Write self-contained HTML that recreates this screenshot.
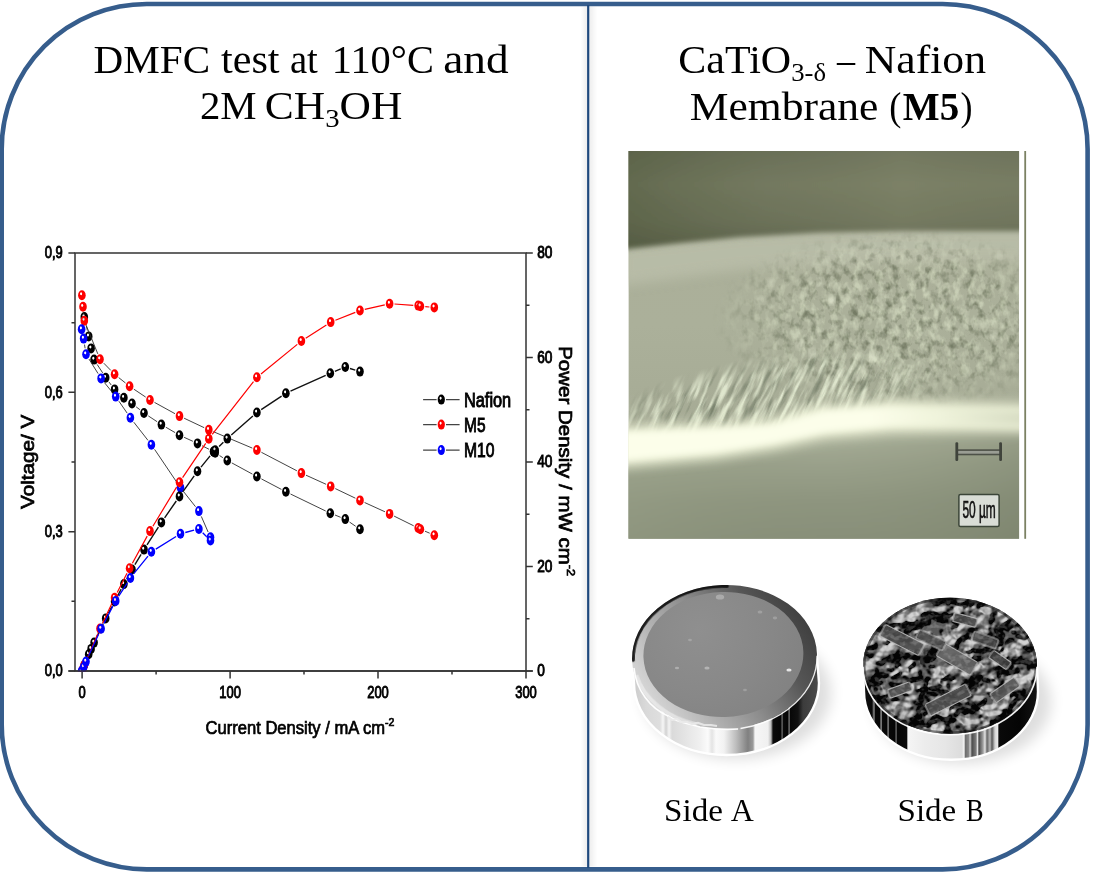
<!DOCTYPE html>
<html lang="en"><head><meta charset="utf-8"><title>Graphical abstract</title><style>html,body{margin:0;padding:0;background:#fff;overflow:hidden}svg{display:block}</style></head>
<body>
<svg width="1100" height="881" viewBox="0 0 1100 881">
<defs>
<linearGradient id="dsl" x1="0" x2="1" y1="0" y2="0"><stop offset="0" stop-color="#000" stop-opacity="0"/><stop offset="1" stop-color="#000" stop-opacity="0.07"/></linearGradient>
<linearGradient id="dsr" x1="0" x2="1" y1="0" y2="0"><stop offset="0" stop-color="#000" stop-opacity="0.07"/><stop offset="1" stop-color="#000" stop-opacity="0"/></linearGradient>
<radialGradient id="mk" cx="0.40" cy="0.36" r="0.62" fx="0.40" fy="0.36"><stop offset="0" stop-color="#fff" stop-opacity="0.95"/><stop offset="0.13" stop-color="#fff" stop-opacity="0.8"/><stop offset="0.30" stop-color="#000"/><stop offset="1" stop-color="#000"/></radialGradient>
<radialGradient id="mr" cx="0.40" cy="0.36" r="0.62" fx="0.40" fy="0.36"><stop offset="0" stop-color="#fff" stop-opacity="0.95"/><stop offset="0.13" stop-color="#fff" stop-opacity="0.8"/><stop offset="0.30" stop-color="#fe0000"/><stop offset="1" stop-color="#fe0000"/></radialGradient>
<radialGradient id="mb" cx="0.40" cy="0.36" r="0.62" fx="0.40" fy="0.36"><stop offset="0" stop-color="#fff" stop-opacity="0.95"/><stop offset="0.13" stop-color="#fff" stop-opacity="0.8"/><stop offset="0.30" stop-color="#0000fe"/><stop offset="1" stop-color="#0000fe"/></radialGradient>
<clipPath id="plotclip"><rect x="75.0" y="253.0" width="451.0" height="418.4"/></clipPath>
<clipPath id="mclip"><rect x="628.4" y="151.0" width="390.70000000000005" height="387.79999999999995"/></clipPath>
<linearGradient id="mbase" x1="0" y1="0" x2="0" y2="1"><stop offset="0" stop-color="#a0a48e"/><stop offset="0.22" stop-color="#abaf99"/><stop offset="0.45" stop-color="#abb09a"/><stop offset="0.7" stop-color="#a6ab95"/><stop offset="1" stop-color="#878e78"/></linearGradient>
<linearGradient id="mtop" gradientUnits="userSpaceOnUse" x1="0" y1="151" x2="0" y2="246"><stop offset="0" stop-color="#6e735c"/><stop offset="0.35" stop-color="#797e65"/><stop offset="0.75" stop-color="#70755d"/><stop offset="1" stop-color="#646952"/></linearGradient>
<linearGradient id="mtoph" gradientUnits="userSpaceOnUse" x1="628" y1="0" x2="1019" y2="0"><stop offset="0" stop-color="#3f4a2c" stop-opacity="0.38"/><stop offset="0.35" stop-color="#4a5436" stop-opacity="0.12"/><stop offset="0.7" stop-color="#8a9070" stop-opacity="0.18"/><stop offset="1" stop-color="#6c7356" stop-opacity="0.1"/></linearGradient>
<linearGradient id="mbot" gradientUnits="userSpaceOnUse" x1="0" y1="430" x2="0" y2="539"><stop offset="0" stop-color="#aab09a"/><stop offset="0.3" stop-color="#9aa18b"/><stop offset="0.65" stop-color="#8e957f"/><stop offset="1" stop-color="#888f79"/></linearGradient>
<linearGradient id="mboth" gradientUnits="userSpaceOnUse" x1="628" y1="0" x2="1019" y2="0"><stop offset="0" stop-color="#a0a88e" stop-opacity="0.25"/><stop offset="0.5" stop-color="#8c947a" stop-opacity="0"/><stop offset="1" stop-color="#5f6850" stop-opacity="0.22"/></linearGradient>
<filter id="mb1" x="-5%" y="-20%" width="110%" height="140%"><feGaussianBlur stdDeviation="2.4"/></filter>
<filter id="mb3" x="-5%" y="-40%" width="110%" height="180%"><feGaussianBlur stdDeviation="3.2"/></filter>
<filter id="mb6" x="-10%" y="-60%" width="120%" height="220%"><feGaussianBlur stdDeviation="6"/></filter>
<filter id="mb10" x="-10%" y="-60%" width="120%" height="220%"><feGaussianBlur stdDeviation="10"/></filter>
<filter id="mtexA" x="0" y="0" width="100%" height="100%" color-interpolation-filters="sRGB"><feTurbulence type="fractalNoise" baseFrequency="0.13 0.085" numOctaves="3" seed="7" result="n"/><feColorMatrix type="matrix" values="0 0 0 0 0.90  0 0 0 0 0.93  0 0 0 0 0.82  3.0 0 0 0 -1.32"/><feGaussianBlur stdDeviation="0.6"/></filter>
<filter id="mtexD" x="0" y="0" width="100%" height="100%" color-interpolation-filters="sRGB"><feTurbulence type="fractalNoise" baseFrequency="0.12 0.10" numOctaves="3" seed="23" result="n"/><feColorMatrix type="matrix" values="0 0 0 0 0.37  0 0 0 0 0.40  0 0 0 0 0.31  0 2.8 0 0 -1.34"/><feGaussianBlur stdDeviation="0.6"/></filter>
<filter id="mtexS" x="0" y="0" width="100%" height="100%" color-interpolation-filters="sRGB"><feTurbulence type="fractalNoise" baseFrequency="0.17 0.03" numOctaves="3" seed="5" result="n"/><feColorMatrix type="matrix" values="0 0 0 0 0.95  0 0 0 0 0.98  0 0 0 0 0.88  3.2 0 0 0 -1.4"/><feGaussianBlur stdDeviation="0.7"/></filter>
<filter id="mtexSD" x="0" y="0" width="100%" height="100%" color-interpolation-filters="sRGB"><feTurbulence type="fractalNoise" baseFrequency="0.15 0.035" numOctaves="3" seed="11" result="n"/><feColorMatrix type="matrix" values="0 0 0 0 0.42  0 0 0 0 0.46  0 0 0 0 0.38  0 3.0 0 0 -1.45"/><feGaussianBlur stdDeviation="0.7"/></filter>
<radialGradient id="mmgA" gradientUnits="userSpaceOnUse" cx="900" cy="320" r="150" gradientTransform="translate(900 320) scale(1.25 0.62) translate(-900 -320)"><stop offset="0" stop-color="#fff"/><stop offset="0.6" stop-color="#fff" stop-opacity="0.85"/><stop offset="1" stop-color="#fff" stop-opacity="0"/></radialGradient>
<mask id="mmA" maskUnits="userSpaceOnUse" x="628.4" y="151.0" width="390.70000000000005" height="387.79999999999995"><rect x="628.4" y="151.0" width="390.70000000000005" height="387.79999999999995" fill="url(#mmgA)"/></mask>
<radialGradient id="mmgS" gradientUnits="userSpaceOnUse" cx="770" cy="400" r="150" gradientTransform="translate(770 400) rotate(-9) scale(1.15 0.30) translate(-770 -400)"><stop offset="0" stop-color="#fff"/><stop offset="0.65" stop-color="#fff" stop-opacity="0.9"/><stop offset="1" stop-color="#fff" stop-opacity="0"/></radialGradient>
<mask id="mmS" maskUnits="userSpaceOnUse" x="628.4" y="151.0" width="390.70000000000005" height="387.79999999999995"><rect x="628.4" y="151.0" width="390.70000000000005" height="387.79999999999995" fill="url(#mmgS)"/></mask>
<linearGradient id="mcore" gradientUnits="userSpaceOnUse" x1="628" y1="0" x2="1019" y2="0"><stop offset="0" stop-color="#fcfeea"/><stop offset="0.62" stop-color="#fcfeea"/><stop offset="0.8" stop-color="#eff3db"/><stop offset="1" stop-color="#d9dec5"/></linearGradient>
<filter id="dsh" x="-30%" y="-30%" width="160%" height="160%"><feGaussianBlur stdDeviation="7"/></filter>
<filter id="db05" x="-5%" y="-5%" width="110%" height="110%"><feGaussianBlur stdDeviation="0.5"/></filter>
<linearGradient id="dAw" gradientUnits="userSpaceOnUse" x1="632" y1="0" x2="820" y2="0"><stop offset="0.0000" stop-color="#c9c9c9"/><stop offset="0.0745" stop-color="#d9d9d9"/><stop offset="0.1489" stop-color="#dedede"/><stop offset="0.1649" stop-color="#f6f6f6"/><stop offset="0.1809" stop-color="#d2d2d2"/><stop offset="0.1968" stop-color="#f4f4f4"/><stop offset="0.2128" stop-color="#dadada"/><stop offset="0.3617" stop-color="#f0f0f0"/><stop offset="0.4043" stop-color="#fbfbfb"/><stop offset="0.4255" stop-color="#e4e4e4"/><stop offset="0.4468" stop-color="#fafafa"/><stop offset="0.4894" stop-color="#f2f2f2"/><stop offset="0.5532" stop-color="#bdbdbd"/><stop offset="0.6170" stop-color="#808080"/><stop offset="0.6436" stop-color="#9a9a9a"/><stop offset="0.6543" stop-color="#f6f6f6"/><stop offset="0.7234" stop-color="#f0f0f0"/><stop offset="0.7394" stop-color="#bbbbbb"/><stop offset="0.7500" stop-color="#0a0a0a"/><stop offset="0.7926" stop-color="#050505"/><stop offset="0.7979" stop-color="#777"/><stop offset="0.8059" stop-color="#0a0a0a"/><stop offset="0.8298" stop-color="#050505"/><stop offset="0.8351" stop-color="#888"/><stop offset="0.8431" stop-color="#080808"/><stop offset="0.8830" stop-color="#111"/><stop offset="0.9096" stop-color="#3c3c3c"/><stop offset="1.0000" stop-color="#4c4c4c"/></linearGradient>
<linearGradient id="dAr" gradientUnits="userSpaceOnUse" x1="640" y1="715" x2="812" y2="610"><stop offset="0" stop-color="#e4e4e4"/><stop offset="0.2" stop-color="#c2c2c2"/><stop offset="0.5" stop-color="#8c8c8c"/><stop offset="0.75" stop-color="#565656"/><stop offset="1" stop-color="#3a3a3a"/></linearGradient>
<radialGradient id="dAf" gradientUnits="userSpaceOnUse" cx="700" cy="630" r="110"><stop offset="0" stop-color="#8f8f8f"/><stop offset="0.6" stop-color="#888888"/><stop offset="1" stop-color="#828282"/></radialGradient>
<clipPath id="dAtop"><ellipse cx="724.5" cy="657.0" rx="92.5" ry="72.0" transform="rotate(-2 724.5 657.0)"/></clipPath>
<linearGradient id="dBw" gradientUnits="userSpaceOnUse" x1="862" y1="0" x2="1040" y2="0"><stop offset="0.0000" stop-color="#151515"/><stop offset="0.0562" stop-color="#080808"/><stop offset="0.0674" stop-color="#8a8a8a"/><stop offset="0.0758" stop-color="#080808"/><stop offset="0.1011" stop-color="#050505"/><stop offset="0.1067" stop-color="#aaaaaa"/><stop offset="0.1152" stop-color="#0a0a0a"/><stop offset="0.1404" stop-color="#060606"/><stop offset="0.1461" stop-color="#999"/><stop offset="0.1545" stop-color="#080808"/><stop offset="0.1854" stop-color="#050505"/><stop offset="0.1910" stop-color="#777"/><stop offset="0.1994" stop-color="#060606"/><stop offset="0.2500" stop-color="#0a0a0a"/><stop offset="0.2584" stop-color="#f5f5f5"/><stop offset="0.3539" stop-color="#ececec"/><stop offset="0.4663" stop-color="#e6e6e6"/><stop offset="0.5618" stop-color="#dcdcdc"/><stop offset="0.5730" stop-color="#f4f4f4"/><stop offset="0.5815" stop-color="#6e6e6e"/><stop offset="0.6011" stop-color="#8a8a8a"/><stop offset="0.6067" stop-color="#d8d8d8"/><stop offset="0.6180" stop-color="#4c4c4c"/><stop offset="0.6404" stop-color="#7c7c7c"/><stop offset="0.6489" stop-color="#e0e0e0"/><stop offset="0.6573" stop-color="#4c4c4c"/><stop offset="0.6798" stop-color="#a0a0a0"/><stop offset="0.6910" stop-color="#e4e4e4"/><stop offset="0.7022" stop-color="#666"/><stop offset="0.7191" stop-color="#b8b8b8"/><stop offset="0.7303" stop-color="#555"/><stop offset="0.7472" stop-color="#d4d4d4"/><stop offset="0.7612" stop-color="#e8e8e8"/><stop offset="0.7697" stop-color="#0a0a0a"/><stop offset="0.8876" stop-color="#050505"/><stop offset="1.0000" stop-color="#161616"/></linearGradient>
<clipPath id="dBtop"><ellipse cx="950.0" cy="665.8" rx="87.0" ry="68.0"/></clipPath>
<filter id="dBtex" x="0" y="0" width="100%" height="100%" color-interpolation-filters="sRGB"><feTurbulence type="fractalNoise" baseFrequency="0.04 0.05" numOctaves="4" seed="8" result="n"/><feComponentTransfer in="n" result="h"><feFuncA type="discrete" tableValues="0 0 0 0.2 0.2 0.5 0.55 0.8 0.85 1 1 1"/></feComponentTransfer><feGaussianBlur in="h" stdDeviation="0.8" result="hb"/><feDiffuseLighting in="hb" surfaceScale="7" diffuseConstant="1.05" lighting-color="#cfcfcf" result="lit"><feDistantLight azimuth="235" elevation="38"/></feDiffuseLighting><feColorMatrix in="lit" type="matrix" values="1.55 0 0 0 -0.46  1.55 0 0 0 -0.46  1.55 0 0 0 -0.46  0 0 0 0 1"/></filter>
<filter id="dBtex2" x="0" y="0" width="100%" height="100%" color-interpolation-filters="sRGB"><feTurbulence type="fractalNoise" baseFrequency="0.16 0.2" numOctaves="2" seed="19" result="n"/><feColorMatrix type="matrix" values="0 0 0 0 0.9  0 0 0 0 0.9  0 0 0 0 0.9  0 4.5 0 0 -2.1"/><feGaussianBlur stdDeviation="0.4"/></filter>
</defs>
<path d="M146.7,4.0 H942.5999999999999 A145,145 0 0 1 1087.6,149.0 V724.4 A145,145 0 0 1 942.5999999999999,869.4 H146.7 A145,145 0 0 1 1.7,724.4 V149.0 A145,145 0 0 1 146.7,4.0 Z" fill="#fff" stroke="#365d8c" stroke-width="4.6"/>
<rect x="580.5" y="6.5" width="6.6" height="860" fill="url(#dsl)"/><rect x="589.3" y="6.5" width="8" height="860" fill="url(#dsr)"/><rect x="587.1" y="5" width="2.2" height="863" fill="#1f497d"/>
<text y="73.0" font-family="'Liberation Serif', serif" font-size="39.3" fill="#000"><tspan x="93.55" textLength="116.5" lengthAdjust="spacingAndGlyphs">DMFC</tspan> <tspan x="221.0" textLength="58.55" lengthAdjust="spacingAndGlyphs">test</tspan> <tspan x="289.91" textLength="27.97" lengthAdjust="spacingAndGlyphs">at</tspan> <tspan x="331.72" textLength="102.14" lengthAdjust="spacingAndGlyphs">110°C</tspan> <tspan x="443.15" textLength="65.42" lengthAdjust="spacingAndGlyphs">and</tspan></text><text y="119.2" font-family="'Liberation Serif', serif" font-size="39.3" fill="#000"><tspan x="199.96" textLength="56.65" lengthAdjust="spacingAndGlyphs">2M</tspan> <tspan x="264.89" textLength="137.5" lengthAdjust="spacingAndGlyphs">CH<tspan font-size="26" dy="8">3</tspan><tspan dy="-8">OH</tspan></tspan></text><text y="73.0" font-family="'Liberation Serif', serif" font-size="39.3" fill="#000"><tspan x="678.33" textLength="147.67" lengthAdjust="spacingAndGlyphs">CaTiO<tspan font-size="25" dy="8">3-δ</tspan></tspan> <tspan x="837.12" textLength="18.07" lengthAdjust="spacingAndGlyphs"><tspan dy="-8">–</tspan></tspan> <tspan x="864.79" textLength="121.25" lengthAdjust="spacingAndGlyphs">Nafion</tspan></text><text y="119.5" font-family="'Liberation Serif', serif" font-size="39.3" fill="#000"><tspan x="689.79" textLength="188.66" lengthAdjust="spacingAndGlyphs">Membrane</tspan> <tspan x="889.27" textLength="12.14" lengthAdjust="spacingAndGlyphs">(</tspan><tspan x="902.8" textLength="56.44" lengthAdjust="spacingAndGlyphs" font-weight="bold">M5</tspan><tspan x="960.58" textLength="12.02" lengthAdjust="spacingAndGlyphs">)</tspan></text><text y="820.8" font-family="'Liberation Serif', serif" font-size="31.7" fill="#000"><tspan x="664.11" textLength="58.85" lengthAdjust="spacingAndGlyphs">Side</tspan> <tspan x="730.8" textLength="23.09" lengthAdjust="spacingAndGlyphs">A</tspan></text><text y="820.8" font-family="'Liberation Serif', serif" font-size="31.7" fill="#000"><tspan x="897.62" textLength="58.64" lengthAdjust="spacingAndGlyphs">Side</tspan> <tspan x="966.01" textLength="17.6" lengthAdjust="spacingAndGlyphs">B</tspan></text>
<rect x="75.0" y="253.0" width="451.0" height="418.0" fill="none" stroke="#333" stroke-width="1.5"/><path d="M68.4,671.0H75.0M68.4,531.7H75.0M68.4,392.3H75.0M68.4,253.0H75.0M71.5,601.3H75.0M71.5,462.0H75.0M71.5,322.7H75.0M82.1,671.0V678.6M230.1,671.0V678.6M378.0,671.0V678.6M526.0,671.0V678.6M156.1,671.0V674.6M304.0,671.0V674.6M452.0,671.0V674.6M526.0,671.0H532.8M526.0,566.5H532.8M526.0,462.0H532.8M526.0,357.5H532.8M526.0,253.0H532.8M526.0,618.8H529.5M526.0,514.2H529.5M526.0,409.8H529.5M526.0,305.2H529.5" stroke="#333" stroke-width="1.5" fill="none"/><text x="44.7" y="676.2" font-family="'Liberation Sans', sans-serif" font-size="16" textLength="18" lengthAdjust="spacingAndGlyphs" fill="#000" stroke="#000" stroke-width="0.9">0,0</text><text x="44.7" y="536.9" font-family="'Liberation Sans', sans-serif" font-size="16" textLength="18" lengthAdjust="spacingAndGlyphs" fill="#000" stroke="#000" stroke-width="0.9">0,3</text><text x="44.7" y="397.5" font-family="'Liberation Sans', sans-serif" font-size="16" textLength="18" lengthAdjust="spacingAndGlyphs" fill="#000" stroke="#000" stroke-width="0.9">0,6</text><text x="44.7" y="258.2" font-family="'Liberation Sans', sans-serif" font-size="16" textLength="18" lengthAdjust="spacingAndGlyphs" fill="#000" stroke="#000" stroke-width="0.9">0,9</text><text x="78.5" y="697.6" font-family="'Liberation Sans', sans-serif" font-size="16" textLength="7.2" lengthAdjust="spacingAndGlyphs" fill="#000" stroke="#000" stroke-width="0.9">0</text><text x="219.3" y="697.6" font-family="'Liberation Sans', sans-serif" font-size="16" textLength="21.6" lengthAdjust="spacingAndGlyphs" fill="#000" stroke="#000" stroke-width="0.9">100</text><text x="367.2" y="697.6" font-family="'Liberation Sans', sans-serif" font-size="16" textLength="21.6" lengthAdjust="spacingAndGlyphs" fill="#000" stroke="#000" stroke-width="0.9">200</text><text x="515.2" y="697.6" font-family="'Liberation Sans', sans-serif" font-size="16" textLength="21.6" lengthAdjust="spacingAndGlyphs" fill="#000" stroke="#000" stroke-width="0.9">300</text><text x="537.2" y="676.3" font-family="'Liberation Sans', sans-serif" font-size="16" textLength="7.6" lengthAdjust="spacingAndGlyphs" fill="#000" stroke="#000" stroke-width="0.9">0</text><text x="537.2" y="571.8" font-family="'Liberation Sans', sans-serif" font-size="16" textLength="15.2" lengthAdjust="spacingAndGlyphs" fill="#000" stroke="#000" stroke-width="0.9">20</text><text x="537.2" y="467.3" font-family="'Liberation Sans', sans-serif" font-size="16" textLength="15.2" lengthAdjust="spacingAndGlyphs" fill="#000" stroke="#000" stroke-width="0.9">40</text><text x="537.2" y="362.8" font-family="'Liberation Sans', sans-serif" font-size="16" textLength="15.2" lengthAdjust="spacingAndGlyphs" fill="#000" stroke="#000" stroke-width="0.9">60</text><text x="537.2" y="258.3" font-family="'Liberation Sans', sans-serif" font-size="16" textLength="15.2" lengthAdjust="spacingAndGlyphs" fill="#000" stroke="#000" stroke-width="0.9">80</text><text x="205.6" y="734" font-family="'Liberation Sans', sans-serif" font-size="18" textLength="188.8" lengthAdjust="spacingAndGlyphs" fill="#000" stroke="#000" stroke-width="0.7">Current Density / mA cm<tspan font-size="11.5" dy="-8">-2</tspan></text><text transform="translate(33.8,509) rotate(-90)" x="0" y="0" font-family="'Liberation Sans', sans-serif" font-size="18.5" textLength="94.3" lengthAdjust="spacingAndGlyphs" fill="#000" stroke="#000" stroke-width="0.7">Voltage/ V</text><text transform="translate(559,346.2) rotate(90)" x="0" y="0" font-family="'Liberation Sans', sans-serif" font-size="18.5" textLength="230" lengthAdjust="spacingAndGlyphs" fill="#000" stroke="#000" stroke-width="0.7">Power Density / mW cm<tspan font-size="11.5" dy="-8">-2</tspan></text><g clip-path="url(#plotclip)"><path d="M85.6,322.9L87.4,330.5M97.1,364.4L102.7,372.9M109.1,382.1L111.2,385.0M118.6,392.9L119.9,394.2M136.1,406.8L139.9,409.7M148.3,415.9L157.1,421.7M165.8,427.2L175.1,432.6M184.1,437.3L192.9,441.3M202.0,445.7L209.1,449.3M219.6,455.6L222.9,457.7M231.8,462.9L252.4,474.1M261.4,478.9L281.4,489.4M290.5,494.0L325.7,511.0M335.0,515.0L340.6,517.3M349.6,522.1L355.7,526.3" stroke="#2e2e2e" stroke-width="0.9" fill="none" stroke-linecap="butt"/><ellipse cx="84.3" cy="317.0" rx="3.8" ry="5" fill="url(#mk)"/><ellipse cx="88.7" cy="336.4" rx="3.8" ry="5" fill="url(#mk)"/><ellipse cx="91.1" cy="348.4" rx="3.8" ry="5" fill="url(#mk)"/><ellipse cx="94.1" cy="359.6" rx="3.8" ry="5" fill="url(#mk)"/><ellipse cx="105.7" cy="377.7" rx="3.8" ry="5" fill="url(#mk)"/><ellipse cx="114.6" cy="389.4" rx="3.8" ry="5" fill="url(#mk)"/><ellipse cx="123.9" cy="397.7" rx="3.8" ry="5" fill="url(#mk)"/><ellipse cx="132.0" cy="403.5" rx="3.8" ry="5" fill="url(#mk)"/><ellipse cx="144.0" cy="413.0" rx="3.8" ry="5" fill="url(#mk)"/><ellipse cx="161.4" cy="424.6" rx="3.8" ry="5" fill="url(#mk)"/><ellipse cx="179.5" cy="435.2" rx="3.8" ry="5" fill="url(#mk)"/><ellipse cx="197.5" cy="443.4" rx="3.8" ry="5" fill="url(#mk)"/><ellipse cx="213.6" cy="451.6" rx="3.8" ry="5" fill="url(#mk)"/><ellipse cx="215.2" cy="452.8" rx="3.8" ry="5" fill="url(#mk)"/><ellipse cx="227.3" cy="460.5" rx="3.8" ry="5" fill="url(#mk)"/><ellipse cx="256.9" cy="476.5" rx="3.8" ry="5" fill="url(#mk)"/><ellipse cx="285.9" cy="491.8" rx="3.8" ry="5" fill="url(#mk)"/><ellipse cx="330.3" cy="513.2" rx="3.8" ry="5" fill="url(#mk)"/><ellipse cx="345.3" cy="519.1" rx="3.8" ry="5" fill="url(#mk)"/><ellipse cx="360.0" cy="529.3" rx="3.8" ry="5" fill="url(#mk)"/><path d="M83.6,312.9L83.7,314.6M86.5,326.1L97.8,353.9M103.8,363.2L110.8,370.4M118.7,377.6L125.5,383.0M133.9,389.2L145.7,397.1M154.5,402.4L175.0,413.7M184.1,418.2L204.2,427.7M213.4,431.7L252.3,448.1M261.4,452.3L296.9,470.8M306.0,475.2L326.1,484.3M335.3,488.6L355.4,498.2M364.6,502.5L385.0,511.8M394.1,516.1L413.7,525.8M425.0,531.2L429.7,533.2" stroke="#2e2e2e" stroke-width="0.9" fill="none" stroke-linecap="butt"/><ellipse cx="81.9" cy="295.2" rx="3.8" ry="5" fill="url(#mr)"/><ellipse cx="83.0" cy="306.8" rx="3.8" ry="5" fill="url(#mr)"/><ellipse cx="84.3" cy="320.7" rx="3.8" ry="5" fill="url(#mr)"/><ellipse cx="100.0" cy="359.3" rx="3.8" ry="5" fill="url(#mr)"/><ellipse cx="114.6" cy="374.3" rx="3.8" ry="5" fill="url(#mr)"/><ellipse cx="129.6" cy="386.3" rx="3.8" ry="5" fill="url(#mr)"/><ellipse cx="150.0" cy="400.0" rx="3.8" ry="5" fill="url(#mr)"/><ellipse cx="179.5" cy="416.1" rx="3.8" ry="5" fill="url(#mr)"/><ellipse cx="208.8" cy="429.8" rx="3.8" ry="5" fill="url(#mr)"/><ellipse cx="256.9" cy="450.0" rx="3.8" ry="5" fill="url(#mr)"/><ellipse cx="301.4" cy="473.1" rx="3.8" ry="5" fill="url(#mr)"/><ellipse cx="330.7" cy="486.4" rx="3.8" ry="5" fill="url(#mr)"/><ellipse cx="360.0" cy="500.4" rx="3.8" ry="5" fill="url(#mr)"/><ellipse cx="389.6" cy="513.9" rx="3.8" ry="5" fill="url(#mr)"/><ellipse cx="418.2" cy="528.0" rx="3.8" ry="5" fill="url(#mr)"/><ellipse cx="420.4" cy="529.2" rx="3.8" ry="5" fill="url(#mr)"/><ellipse cx="434.3" cy="535.2" rx="3.8" ry="5" fill="url(#mr)"/><path d="M84.5,344.6L85.1,348.3M89.0,359.1L98.1,373.6M104.5,382.7L112.3,392.3M118.9,401.2L127.2,413.2M133.8,422.2L148.0,440.4M154.6,449.4L177.3,483.0M183.9,492.0L195.5,506.7M201.3,516.4L208.1,532.0" stroke="#2e2e2e" stroke-width="0.9" fill="none" stroke-linecap="butt"/><ellipse cx="81.6" cy="329.3" rx="3.8" ry="5" fill="url(#mb)"/><ellipse cx="83.6" cy="338.6" rx="3.8" ry="5" fill="url(#mb)"/><ellipse cx="86.0" cy="354.3" rx="3.8" ry="5" fill="url(#mb)"/><ellipse cx="101.1" cy="378.4" rx="3.8" ry="5" fill="url(#mb)"/><ellipse cx="115.7" cy="396.6" rx="3.8" ry="5" fill="url(#mb)"/><ellipse cx="130.4" cy="417.8" rx="3.8" ry="5" fill="url(#mb)"/><ellipse cx="151.4" cy="444.8" rx="3.8" ry="5" fill="url(#mb)"/><ellipse cx="180.5" cy="487.6" rx="3.8" ry="5" fill="url(#mb)"/><ellipse cx="198.9" cy="511.1" rx="3.8" ry="5" fill="url(#mb)"/><ellipse cx="210.5" cy="537.3" rx="3.8" ry="5" fill="url(#mb)"/><path d="M96.6,637.4L103.2,623.6M108.4,613.3L111.9,606.5M117.3,596.4L121.2,589.2M126.7,579.1L129.2,574.5M134.9,564.6L141.1,554.4M147.0,544.8L158.4,527.2M164.6,517.8L176.3,501.0M182.8,491.9L194.2,475.8M201.0,467.1L210.1,455.9M219.1,446.5L223.4,442.3M231.3,435.1L252.9,416.0M261.2,409.7L281.6,396.2M290.5,391.2L325.7,375.3M334.9,371.3L340.7,368.9M350.0,368.5L355.3,370.1" stroke="#111" stroke-width="1.4" fill="none" stroke-linecap="butt"/><ellipse cx="84.3" cy="665.1" rx="3.8" ry="5" fill="url(#mk)"/><ellipse cx="88.7" cy="654.2" rx="3.8" ry="5" fill="url(#mk)"/><ellipse cx="91.1" cy="648.9" rx="3.8" ry="5" fill="url(#mk)"/><ellipse cx="94.1" cy="642.6" rx="3.8" ry="5" fill="url(#mk)"/><ellipse cx="105.7" cy="618.4" rx="3.8" ry="5" fill="url(#mk)"/><ellipse cx="114.6" cy="601.4" rx="3.8" ry="5" fill="url(#mk)"/><ellipse cx="123.9" cy="584.1" rx="3.8" ry="5" fill="url(#mk)"/><ellipse cx="132.0" cy="569.5" rx="3.8" ry="5" fill="url(#mk)"/><ellipse cx="144.0" cy="549.6" rx="3.8" ry="5" fill="url(#mk)"/><ellipse cx="161.4" cy="522.4" rx="3.8" ry="5" fill="url(#mk)"/><ellipse cx="179.5" cy="496.4" rx="3.8" ry="5" fill="url(#mk)"/><ellipse cx="197.5" cy="471.3" rx="3.8" ry="5" fill="url(#mk)"/><ellipse cx="213.6" cy="451.6" rx="3.8" ry="5" fill="url(#mk)"/><ellipse cx="215.2" cy="450.2" rx="3.8" ry="5" fill="url(#mk)"/><ellipse cx="227.3" cy="438.6" rx="3.8" ry="5" fill="url(#mk)"/><ellipse cx="256.9" cy="412.5" rx="3.8" ry="5" fill="url(#mk)"/><ellipse cx="285.9" cy="393.3" rx="3.8" ry="5" fill="url(#mk)"/><ellipse cx="330.3" cy="373.2" rx="3.8" ry="5" fill="url(#mk)"/><ellipse cx="345.3" cy="367.0" rx="3.8" ry="5" fill="url(#mk)"/><ellipse cx="360.0" cy="371.6" rx="3.8" ry="5" fill="url(#mk)"/><path d="M86.6,659.8L97.7,633.9M102.5,623.3L112.1,602.9M117.2,592.5L127.0,573.3M132.4,563.2L147.2,536.1M152.9,526.2L176.6,487.1M182.6,477.6L205.7,443.3M212.2,434.3L253.5,381.6M261.0,374.0L297.3,344.4M305.7,338.2L326.4,324.9M335.4,320.2L355.3,312.4M364.8,309.4L384.8,304.8M394.5,304.0L413.3,305.3M425.3,306.7L429.4,307.0" stroke="#fe0000" stroke-width="1.2" fill="none" stroke-linecap="butt"/><ellipse cx="81.9" cy="671.0" rx="3.8" ry="5" fill="url(#mr)"/><ellipse cx="83.0" cy="668.5" rx="3.8" ry="5" fill="url(#mr)"/><ellipse cx="84.3" cy="665.1" rx="3.8" ry="5" fill="url(#mr)"/><ellipse cx="100.0" cy="628.6" rx="3.8" ry="5" fill="url(#mr)"/><ellipse cx="114.6" cy="597.7" rx="3.8" ry="5" fill="url(#mr)"/><ellipse cx="129.6" cy="568.2" rx="3.8" ry="5" fill="url(#mr)"/><ellipse cx="150.0" cy="531.1" rx="3.8" ry="5" fill="url(#mr)"/><ellipse cx="179.5" cy="482.2" rx="3.8" ry="5" fill="url(#mr)"/><ellipse cx="208.8" cy="438.7" rx="3.8" ry="5" fill="url(#mr)"/><ellipse cx="256.9" cy="377.3" rx="3.8" ry="5" fill="url(#mr)"/><ellipse cx="301.4" cy="341.0" rx="3.8" ry="5" fill="url(#mr)"/><ellipse cx="330.7" cy="322.1" rx="3.8" ry="5" fill="url(#mr)"/><ellipse cx="360.0" cy="310.5" rx="3.8" ry="5" fill="url(#mr)"/><ellipse cx="389.6" cy="303.7" rx="3.8" ry="5" fill="url(#mr)"/><ellipse cx="418.2" cy="305.6" rx="3.8" ry="5" fill="url(#mr)"/><ellipse cx="420.4" cy="306.3" rx="3.8" ry="5" fill="url(#mr)"/><ellipse cx="434.3" cy="307.4" rx="3.8" ry="5" fill="url(#mr)"/><path d="M88.4,656.3L98.7,634.0M103.8,623.6L113.0,606.0M118.7,596.2L127.4,582.8M133.8,573.7L148.0,556.1M155.8,549.1L176.1,536.5M185.3,532.5L194.1,530.2M202.7,532.8L206.7,536.7" stroke="#0000fe" stroke-width="1.3" fill="none" stroke-linecap="butt"/><ellipse cx="81.6" cy="671.0" rx="3.8" ry="5" fill="url(#mb)"/><ellipse cx="83.6" cy="667.2" rx="3.8" ry="5" fill="url(#mb)"/><ellipse cx="86.0" cy="661.6" rx="3.8" ry="5" fill="url(#mb)"/><ellipse cx="101.1" cy="628.7" rx="3.8" ry="5" fill="url(#mb)"/><ellipse cx="115.7" cy="600.9" rx="3.8" ry="5" fill="url(#mb)"/><ellipse cx="130.4" cy="578.0" rx="3.8" ry="5" fill="url(#mb)"/><ellipse cx="151.4" cy="551.8" rx="3.8" ry="5" fill="url(#mb)"/><ellipse cx="180.5" cy="533.8" rx="3.8" ry="5" fill="url(#mb)"/><ellipse cx="198.9" cy="529.0" rx="3.8" ry="5" fill="url(#mb)"/><ellipse cx="210.5" cy="540.5" rx="3.8" ry="5" fill="url(#mb)"/></g><path d="M68.4,671.0H532.8" stroke="#333" stroke-width="1.5" fill="none"/><path d="M423.1,399.6H436.6M446,399.6H459.6" stroke="#444" stroke-width="1.1"/><ellipse cx="441.3" cy="399.6" rx="3.6" ry="5" fill="url(#mk)"/><text x="464" y="406.7" font-family="'Liberation Sans', sans-serif" font-size="19.8" textLength="47.2" lengthAdjust="spacingAndGlyphs" fill="#000" stroke="#000" stroke-width="0.9">Nafion</text><path d="M423.1,424.6H436.6M446,424.6H459.6" stroke="#444" stroke-width="1.1"/><ellipse cx="441.3" cy="424.6" rx="3.6" ry="5" fill="url(#mr)"/><text x="464" y="431.7" font-family="'Liberation Sans', sans-serif" font-size="19.8" textLength="21.5" lengthAdjust="spacingAndGlyphs" fill="#000" stroke="#000" stroke-width="0.9">M5</text><path d="M423.1,450.1H436.6M446,450.1H459.6" stroke="#444" stroke-width="1.1"/><ellipse cx="441.3" cy="450.1" rx="3.6" ry="5" fill="url(#mb)"/><text x="464" y="457.2" font-family="'Liberation Sans', sans-serif" font-size="19.8" textLength="30.5" lengthAdjust="spacingAndGlyphs" fill="#000" stroke="#000" stroke-width="0.9">M10</text>
<g clip-path="url(#mclip)"><rect x="628.4" y="151.0" width="390.70000000000005" height="387.79999999999995" fill="url(#mbase)"/><path d="M620,246 L680,240 740,234 820,229.5 900,228 1030,228 1030,262 900,262 820,264 740,270 680,278 620,286Z" fill="#c2c6b2" opacity="0.55" filter="url(#mb6)"/><g mask="url(#mmA)"><rect x="628.4" y="151.0" width="390.70000000000005" height="387.79999999999995" filter="url(#mtexD)" opacity="0.75"/><rect x="628.4" y="151.0" width="390.70000000000005" height="387.79999999999995" filter="url(#mtexA)" opacity="0.55"/></g><g mask="url(#mmS)"><g transform="translate(0 400) skewX(-24) translate(0 -400)"><rect x="508.4" y="151.0" width="630.7" height="387.79999999999995" filter="url(#mtexSD)" opacity="0.75"/><rect x="508.4" y="151.0" width="630.7" height="387.79999999999995" filter="url(#mtexS)" opacity="0.8"/></g></g><ellipse cx="832" cy="300" rx="3.2" ry="3.6" fill="#eef2dc" opacity="0.8" filter="url(#mb1)"/><ellipse cx="819" cy="282" rx="2.4" ry="3.2" fill="#eef2dc" opacity="0.55" filter="url(#mb1)"/><ellipse cx="872" cy="357" rx="2.6" ry="4.2" fill="#eef2dc" opacity="0.7" filter="url(#mb1)"/><ellipse cx="994" cy="336" rx="3.2" ry="3.8" fill="#eef2dc" opacity="0.55" filter="url(#mb1)"/><ellipse cx="883" cy="375" rx="2.4" ry="2.8" fill="#eef2dc" opacity="0.6" filter="url(#mb1)"/><ellipse cx="898" cy="378" rx="2.2" ry="2.6" fill="#eef2dc" opacity="0.5" filter="url(#mb1)"/><ellipse cx="1000" cy="255" rx="2.5" ry="3.5" fill="#eef2dc" opacity="0.4" filter="url(#mb1)"/><ellipse cx="770" cy="282" rx="4" ry="3" fill="#eef2dc" opacity="0.35" filter="url(#mb1)"/><ellipse cx="800" cy="345" rx="4" ry="4" fill="#eef2dc" opacity="0.5" filter="url(#mb1)"/><ellipse cx="812" cy="352" rx="3" ry="5" fill="#eef2dc" opacity="0.6" filter="url(#mb1)"/><ellipse cx="760" cy="300" rx="5" ry="3" fill="#eef2dc" opacity="0.3" filter="url(#mb1)"/><g filter="url(#mb1)"><path d="M610,140 H1040 V231 L900,231 820,232.5 740,237 680,243 610,251Z" fill="url(#mtop)"/><path d="M610,140 H1040 V231 L900,231 820,232.5 740,237 680,243 610,251Z" fill="url(#mtoph)"/></g><g filter="url(#mb3)"><path d="M610,470 L628,467 700,458 760,448 830,440 900,433 960,431 1040,433 V560 H610Z" fill="url(#mbot)"/><path d="M610,470 L628,467 700,458 760,448 830,440 900,433 960,431 1040,433 V560 H610Z" fill="url(#mboth)"/></g><path d="M600,426 L628,426 716,423 773,419 824,404 892,400 950,402 1040,405 V432 L960,432 892,433 824,439 773,450 716,459 628,467 600,469Z" fill="#f0f4da" filter="url(#mb6)" opacity="0.95"/><path d="M600,433 L628,432 716,429 773,425 824,411 892,407 950,409 1040,412 V425 L960,425 892,426 824,432 773,443 716,452 628,460 600,462Z" fill="url(#mcore)" filter="url(#mb3)"/><g><rect x="956" y="449.3" width="45.4" height="6" fill="#4d5148"/><rect x="957" y="450.9" width="43.4" height="2.8" fill="#9a9d94"/><rect x="955.4" y="442.3" width="2.8" height="18.6" rx="1.2" fill="#3f433b"/><rect x="999.2" y="442.3" width="2.8" height="18.6" rx="1.2" fill="#3f433b"/></g><rect x="958.9" y="494.4" width="40.2" height="32.2" rx="1.5" fill="#d9ddd6" stroke="#3b4538" stroke-width="1.5"/><text x="962.4" y="518.4" font-family="'Liberation Sans', sans-serif" font-size="24.5" textLength="33.4" lengthAdjust="spacingAndGlyphs" fill="#111" stroke="#111" stroke-width="0.7">50 µm</text></g><rect x="1024.3" y="151.0" width="1.8" height="387.79999999999995" fill="#7b8163"/>
<ellipse cx="736.5" cy="693.0" rx="94.5" ry="66.0" fill="#000" opacity="0.13" filter="url(#dsh)"/><path d="M632.0,657.0 A92.5,72.0 0 0 1 817.0,657.0 L819.0,683.0 A92.5,72.0 0 0 1 634.0,683.0 Z" fill="url(#dAw)" stroke="#fff" stroke-width="2.4" stroke-linejoin="round"/><ellipse cx="724.5" cy="657.0" rx="92.5" ry="72.0" transform="rotate(-2 724.5 657.0)" fill="url(#dAr)"/><g clip-path="url(#dAtop)"><ellipse cx="724.5" cy="657.0" rx="91.5" ry="71.0" transform="rotate(-2 724.5 657.0)" fill="none" stroke="#0a0a0a" stroke-width="3.6" pathLength="100" stroke-dasharray="26 74" stroke-dashoffset="-50" stroke-linecap="round" opacity="0.9" filter="url(#db05)"/><ellipse cx="724.5" cy="657.0" rx="91.5" ry="71.0" transform="rotate(-2 724.5 657.0)" fill="none" stroke="#f4f4f4" stroke-width="5" pathLength="100" stroke-dasharray="16 84" stroke-dashoffset="-31" opacity="0.55" filter="url(#db05)"/></g><ellipse cx="723.4" cy="654.5" rx="80" ry="62.5" transform="rotate(-2 723.4 654.5)" fill="url(#dAf)"/><ellipse cx="720" cy="597" rx="4.2" ry="2.6" fill="#fff" opacity="0.28" filter="url(#db05)"/><ellipse cx="707" cy="668" rx="2.6" ry="1.6" fill="#fff" opacity="0.35" filter="url(#db05)"/><ellipse cx="789" cy="670" rx="2.6" ry="1.6" fill="#fff" opacity="0.8" filter="url(#db05)"/><ellipse cx="677" cy="668" rx="2.1" ry="1.3" fill="#fff" opacity="0.3" filter="url(#db05)"/><ellipse cx="760" cy="612" rx="2.4" ry="1.5" fill="#fff" opacity="0.2" filter="url(#db05)"/><ellipse cx="775" cy="618" rx="2.2" ry="1.4" fill="#fff" opacity="0.2" filter="url(#db05)"/><ellipse cx="690" cy="640" rx="1.9" ry="1.2" fill="#fff" opacity="0.2" filter="url(#db05)"/><ellipse cx="745" cy="690" rx="1.9" ry="1.2" fill="#fff" opacity="0.2" filter="url(#db05)"/><path d="M634,668 C636,690 650,708 668,716 C676,722 690,724 700,727 C712,729 724,730 738,729" fill="none" stroke="#fff" stroke-width="1.6" opacity="0.95"/><path d="M668,717 l4,3 5,-1 4,3 6,0 5,2 6,-1 6,2 7,0 6,1" fill="none" stroke="#e9e9e9" stroke-width="2.2" opacity="0.9"/><path d="M738,729 A92.5,72.0 0 0 0 817.0,659.0" fill="none" stroke="#fff" stroke-width="1.3" opacity="0.9" transform="rotate(-2 724.5 657.0)"/><ellipse cx="962.0" cy="701.8" rx="89.0" ry="62.0" fill="#000" opacity="0.13" filter="url(#dsh)"/><path d="M863.0,665.8 A87.0,68.0 0 0 1 1037.0,665.8 L1038.0,691.8 A87.0,68.0 0 0 1 864.0,691.8 Z" fill="url(#dBw)" stroke="#fff" stroke-width="2.4" stroke-linejoin="round"/><g clip-path="url(#dBtop)"><rect x="861.0" y="595.8" width="178.0" height="140.0" fill="#4e4e4e"/><rect x="861.0" y="595.8" width="178.0" height="140.0" filter="url(#dBtex)" opacity="0.95"/><rect x="880.0" y="633.5" width="44" height="13" rx="2" fill="#4c4c4c" stroke="#b4b4b4" stroke-width="1.1" transform="rotate(27 902 640)" opacity="0.92" filter="url(#db05)"/><rect x="937.0" y="651.5" width="40" height="15" rx="2" fill="#666" stroke="#b4b4b4" stroke-width="1.1" transform="rotate(30 957 659)" opacity="0.92" filter="url(#db05)"/><rect x="916.0" y="635.0" width="30" height="10" rx="2" fill="#4e4e4e" stroke="#b4b4b4" stroke-width="1.1" transform="rotate(25 931 640)" opacity="0.92" filter="url(#db05)"/><rect x="925.0" y="693.5" width="46" height="13" rx="2" fill="#4c4c4c" stroke="#b4b4b4" stroke-width="1.1" transform="rotate(-27 948 700)" opacity="0.92" filter="url(#db05)"/><rect x="990.0" y="684.5" width="30" height="11" rx="2" fill="#545454" stroke="#b4b4b4" stroke-width="1.1" transform="rotate(-35 1005 690)" opacity="0.92" filter="url(#db05)"/><rect x="972.0" y="635.0" width="26" height="10" rx="2" fill="#444" stroke="#b4b4b4" stroke-width="1.1" transform="rotate(20 985 640)" opacity="0.92" filter="url(#db05)"/><rect x="888.0" y="685.5" width="24" height="9" rx="2" fill="#4d4d4d" stroke="#b4b4b4" stroke-width="1.1" transform="rotate(-20 900 690)" opacity="0.92" filter="url(#db05)"/><rect x="989.0" y="655.5" width="22" height="9" rx="2" fill="#3e3e3e" stroke="#b4b4b4" stroke-width="1.1" transform="rotate(35 1000 660)" opacity="0.92" filter="url(#db05)"/><rect x="953.0" y="615.5" width="24" height="9" rx="2" fill="#4a4a4a" stroke="#b4b4b4" stroke-width="1.1" transform="rotate(15 965 620)" opacity="0.92" filter="url(#db05)"/><rect x="861.0" y="595.8" width="178.0" height="140.0" filter="url(#dBtex2)" opacity="0.2"/><circle cx="943" cy="621.5" r="1.8" fill="#050505"/><ellipse cx="950.0" cy="665.8" rx="87.0" ry="68.0" fill="none" stroke="#111" stroke-width="5" opacity="0.45" filter="url(#db05)"/></g><path d="M863.0,666.8 A87.0,68.0 0 0 0 1037.0,666.8" fill="none" stroke="#fff" stroke-width="1.6" opacity="0.95"/>
</svg>
</body></html>
